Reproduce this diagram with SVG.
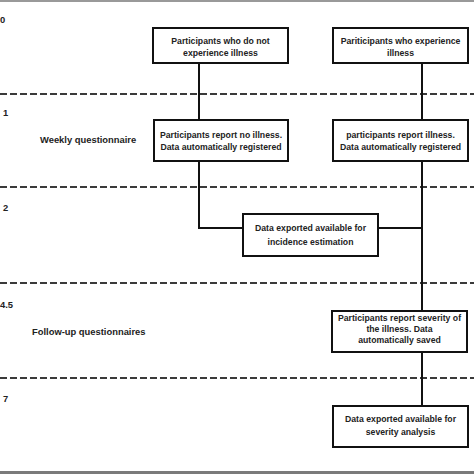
<svg xmlns="http://www.w3.org/2000/svg" width="474" height="474" viewBox="0 0 474 474">
<style>
.box{fill:#fff;stroke:#111;stroke-width:2}
.t{font-family:"Liberation Sans",Arial,sans-serif;font-weight:bold;font-size:8.7px;fill:#222;text-anchor:middle}
.lab{font-family:"Liberation Sans",Arial,sans-serif;font-weight:bold;font-size:9.4px;fill:#222}
.dash{stroke:#3a3a3a;stroke-width:2;stroke-dasharray:7 3;fill:none}
.ln{stroke:#111;stroke-width:2;fill:none}
</style>
<rect x="0" y="0" width="474" height="474" fill="#fff"/>
<rect x="0" y="0" width="474" height="2" fill="#999"/>
<rect x="0" y="471" width="474" height="3" fill="#7a7a7a"/>
<g id="timeline">
<line class="dash" x1="0" y1="94" x2="474" y2="94"/>
<line class="dash" x1="0" y1="187" x2="474" y2="187"/>
<line class="dash" x1="0" y1="283" x2="474" y2="283"/>
<line class="dash" x1="0" y1="378" x2="474" y2="378"/>
<text class="lab" x="0" y="23">0</text>
<text class="lab" x="3" y="116">1</text>
<text class="lab" x="3" y="211">2</text>
<text class="lab" x="0" y="308">4.5</text>
<text class="lab" x="3" y="402">7</text>
<text class="lab" x="40" y="143">Weekly questionnaire</text>
<text class="lab" x="32" y="335">Follow-up questionnaires</text>
</g>
<g id="connectors">
<path class="ln" d="M199 63 V120"/>
<path class="ln" d="M199 161 V228 H243"/>
<path class="ln" d="M378 228 H422"/>
<path class="ln" d="M422 63 V120"/>
<path class="ln" d="M422 161 V311"/>
<path class="ln" d="M422 352 V406"/>
</g>
<g id="n1">
<rect class="box" x="153" y="28" width="135" height="35"/>
<text class="t" x="220.5" y="44">Participants who do not</text>
<text class="t" x="220.5" y="56">experience illness</text>
</g>
<g id="n2">
<rect class="box" x="333" y="28" width="135" height="35"/>
<text class="t" x="400.5" y="44">Pariticipants who experience</text>
<text class="t" x="400.5" y="56">illness</text>
</g>
<g id="n3">
<rect class="box" x="154" y="120" width="134" height="41"/>
<text class="t" x="221" y="138">Participants report no illness.</text>
<text class="t" x="221" y="150">Data automatically registered</text>
</g>
<g id="n4">
<rect class="box" x="333" y="120" width="135" height="41"/>
<text class="t" x="400.5" y="138">participants report illness.</text>
<text class="t" x="400.5" y="150">Data automatically registered</text>
</g>
<g id="n5">
<rect class="box" x="243" y="214" width="135" height="42"/>
<text class="t" x="310.5" y="231">Data exported available for</text>
<text class="t" x="310.5" y="245">incidence estimation</text>
</g>
<g id="n6">
<rect class="box" x="332" y="311" width="135" height="41"/>
<text class="t" x="399.5" y="321">Participants report severity of</text>
<text class="t" x="399.5" y="332">the illness. Data</text>
<text class="t" x="399.5" y="343">automatically saved</text>
</g>
<g id="n7">
<rect class="box" x="333" y="406" width="135" height="41"/>
<text class="t" x="400.5" y="422">Data exported available for</text>
<text class="t" x="400.5" y="435">severity analysis</text>
</g>
</svg>
